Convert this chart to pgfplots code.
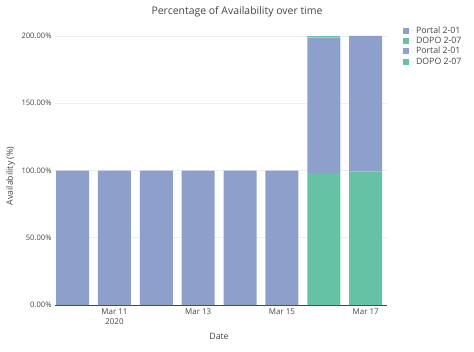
\documentclass[border=0pt]{standalone}
\usepackage{pgfplots}
\pgfplotsset{compat=1.18}
\usepackage{fontspec}
\setmainfont{Open Sans}
\definecolor{pblue}{HTML}{8DA0CB}
\definecolor{pgreen}{HTML}{66C2A5}
\definecolor{txt}{HTML}{444444}
\definecolor{grd}{HTML}{EEEEEE}
\pgfplotsset{lg/.style={legend image code/.code={\fill[##1] (0bp,-3bp) rectangle (6bp,3bp);\path (0bp,0bp) -- (12bp,0bp);}}}
\begin{document}
\begin{tikzpicture}[x=1bp,y=1bp]
\useasboundingbox (0,0) rectangle (474,351);
\begin{axis}[at={(55bp,46bp)}, anchor=south west, scale only axis,
  width=332bp, height=282.45bp,
  ybar stacked, bar width=0.79,
  xmin=9.58, xmax=17.51, ymin=0, ymax=210,
  axis lines*=left,
  y axis line style={draw=none},
  x axis line style={draw=txt, line width=0.6pt},
  tick style={draw=none},
  ymajorgrids, grid style={grd, line width=0.7pt},
  ytick={0,50,100,150,200},
  yticklabels={0.00\%,50.00\%,100.00\%,150.00\%,200.00\%},
  xtick={11,13,15,17},
  xticklabels={{Mar 11\\2020},Mar 13,Mar 15,Mar 17},
  xticklabel style={align=center, font=\fontsize{8}{10.5}\selectfont, text=txt},
  yticklabel style={font=\fontsize{7.6}{9}\selectfont, text=txt},
  legend style={at={(1.038,0.998)}, anchor=north west, draw=none, fill=none,
    font=\fontsize{8.8}{10}\selectfont, text=txt, row sep=0bp,
    nodes={inner sep=1.2bp},
    legend cell align=left},
]
\addplot[fill=pblue, draw=none, lg] coordinates {(10,100) (11,100) (12,100) (13,100) (14,100) (15,100) (16,0) (17,0)};
\addlegendentry{Portal 2-01}
\addplot[fill=pgreen, draw=none, lg] coordinates {(10,0) (11,0) (12,0) (13,0) (14,0) (15,0) (16,98) (17,99.3)};
\addlegendentry{DOPO 2-07}
\addplot[fill=pblue, draw=none, lg] coordinates {(10,0) (11,0) (12,0) (13,0) (14,0) (15,0) (16,101) (17,100.7)};
\addlegendentry{Portal 2-01}
\addplot[fill=pgreen, draw=none, lg] coordinates {(10,0) (11,0) (12,0) (13,0) (14,0) (15,0) (16,1) (17,0)};
\addlegendentry{DOPO 2-07}
\end{axis}
\node[font=\fontsize{10.5}{12}\selectfont, text=txt] at (237,339) {Percentage of Availability over time};
\node[rotate=90, font=\fontsize{8.8}{10}\selectfont, text=txt] at (10.5,175) {Availability (\%)};
\node[font=\fontsize{8.8}{10}\selectfont, text=txt] at (219,15) {Date};
\end{tikzpicture}
\end{document}
